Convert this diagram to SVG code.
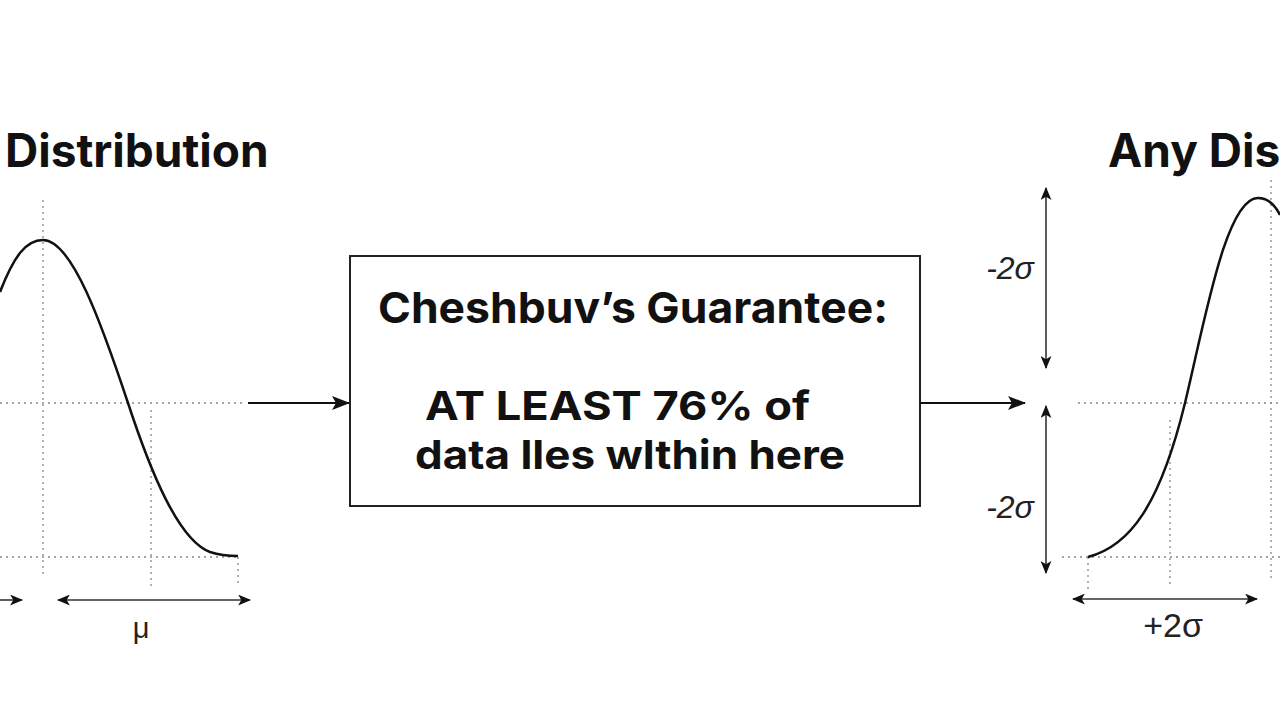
<svg xmlns="http://www.w3.org/2000/svg" width="1280" height="720" viewBox="0 0 1280 720">
<defs>
<marker id="ah" viewBox="0 0 12 10" refX="11" refY="5" markerWidth="13" markerHeight="11" markerUnits="userSpaceOnUse" orient="auto-start-reverse">
<path d="M0,0 L12,5 L0,10 L3,5 Z" fill="#111"/>
</marker>
<marker id="ahb" viewBox="0 0 18 14" refX="17" refY="7" markerWidth="18" markerHeight="14" markerUnits="userSpaceOnUse" orient="auto-start-reverse">
<path d="M0,0 L18,7 L0,14 L4,7 Z" fill="#111"/>
</marker>
</defs>
<style>
.title{font-family:Inter,"Open Sans",sans-serif;font-weight:700;font-size:46px;fill:#111}
.box{font-family:Inter,"Open Sans",sans-serif;font-weight:700;fill:#111}
.lbl{font-family:"Liberation Sans",Arial,sans-serif;font-size:32px;fill:#222;font-style:italic}
.dot{stroke:#888;stroke-width:1.3;stroke-dasharray:2 4;fill:none}
.curve{stroke:#111;stroke-width:2.5;fill:none}
.dim{stroke:#333;stroke-width:1.6;fill:none}
.conn{stroke:#111;stroke-width:2.2;fill:none}
</style>
<rect width="1280" height="720" fill="#fff"/>
<g id="left-panel">
<text class="title" x="5" y="167">Distribution</text>
<line class="dot" x1="43" y1="200" x2="43" y2="578"/>
<line class="dot" x1="0" y1="403" x2="246" y2="403"/>
<line class="dot" x1="0" y1="557" x2="238" y2="557"/>
<line class="dot" x1="151" y1="410" x2="151" y2="588"/>
<line class="dot" x1="238" y1="557" x2="238" y2="585"/>
<path class="curve" d="M0,292 C14,256 26,240 43,240 C72,240 102,325 128,403 C150,470 178,540 210,552 C222,556 230,556 238,556"/>
<line class="dim" x1="0" y1="600" x2="22" y2="600" marker-end="url(#ah)"/>
<line class="dim" x1="58" y1="600" x2="250" y2="600" marker-start="url(#ah)" marker-end="url(#ah)"/>
<text class="lbl" x="141" y="638" text-anchor="middle" style="font-style:normal;font-size:29px">μ</text>
</g>
<g id="guarantee">
<rect x="350" y="256" width="570" height="250" fill="#fff" stroke="#222" stroke-width="2"/>
<text class="box" x="378" y="323" font-size="43" textLength="510" lengthAdjust="spacingAndGlyphs">Cheshbuv’s Guarantee:</text>
<text class="box" x="425" y="420" font-size="40" textLength="385" lengthAdjust="spacingAndGlyphs">AT LEAST 76% of</text>
<text class="box" x="415" y="469" font-size="40" textLength="430" lengthAdjust="spacingAndGlyphs">data lles wlthin here</text>
</g>
<g id="right-panel">
<text class="title" x="1108" y="167">Any Distribution</text>
<line class="dot" x1="1271" y1="180" x2="1271" y2="582"/>
<line class="dot" x1="1078" y1="403" x2="1280" y2="403"/>
<line class="dot" x1="1062" y1="557" x2="1280" y2="557"/>
<line class="dot" x1="1170" y1="420" x2="1170" y2="588"/>
<line class="dot" x1="1088" y1="557" x2="1088" y2="592"/>
<path class="curve" d="M1088,557 C1130,546 1160,505 1185,403 C1205,320 1226,198 1258,198 C1268,198 1275,205 1280,215"/>
<line class="dim" x1="1046" y1="188" x2="1046" y2="368" marker-start="url(#ah)" marker-end="url(#ah)"/>
<text class="lbl" x="1010" y="279" text-anchor="middle">-2σ</text>
<line class="dim" x1="1046" y1="406" x2="1046" y2="573" marker-start="url(#ah)" marker-end="url(#ah)"/>
<text class="lbl" x="1010" y="518" text-anchor="middle">-2σ</text>
<line class="dim" x1="1073" y1="599" x2="1257" y2="599" marker-start="url(#ah)" marker-end="url(#ah)"/>
<text class="lbl" x="1173" y="637" text-anchor="middle" style="font-style:normal;font-size:34px">+2σ</text>
</g>
<g id="connectors">
<line class="conn" x1="248" y1="403" x2="349" y2="403" marker-end="url(#ahb)"/>
<line class="conn" x1="920" y1="403" x2="1025" y2="403" marker-end="url(#ahb)"/>
</g>
</svg>
